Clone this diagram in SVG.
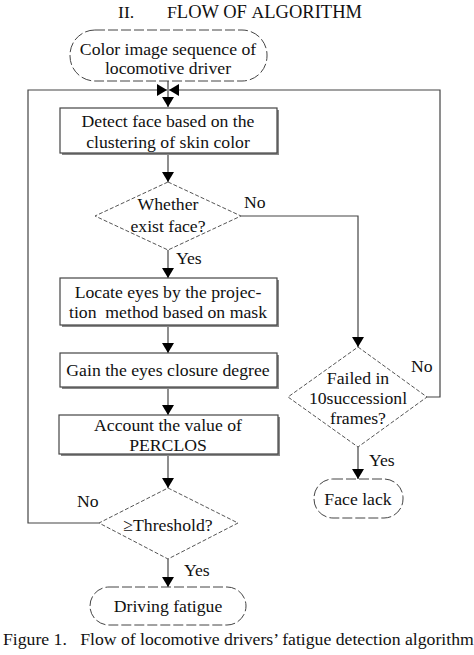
<svg xmlns="http://www.w3.org/2000/svg" width="474" height="655" viewBox="0 0 474 655">
<style>
text{font-family:"Liberation Serif","Times New Roman",serif;fill:#111;font-size:17.7px;text-anchor:middle}
.box{fill:#fff;stroke:#444;stroke-width:1.2}
.sh{fill:none;stroke:#888;stroke-width:2}
.dia{fill:#fff;stroke:#555;stroke-width:1;stroke-dasharray:4 2}
.term{fill:#fff;stroke:#444;stroke-width:1;stroke-dasharray:10 3}
.ln{fill:none;stroke:#444;stroke-width:1.2}
.lb{text-anchor:start}
</style>
<defs>
<marker id="ah" markerWidth="10" markerHeight="12" refX="10" refY="6" orient="auto" markerUnits="userSpaceOnUse">
<path d="M0,0 L10,6 L0,12 z" fill="#000"/>
</marker>
</defs>
<g id="title">
<text x="118" y="18" font-size="23" style="text-anchor:start">II.</text>
<text x="167" y="18" font-size="24" style="text-anchor:start"><tspan>F</tspan><tspan font-size="18.5">LOW OF </tspan><tspan>A</tspan><tspan font-size="18.5">LGORITHM</tspan></text>
</g>
<g id="connectors">
<path class="ln" d="M168,81 V90"/>
<path class="ln" d="M168,90 V107" marker-end="url(#ah)"/>
<path class="ln" d="M99,523 H28 V90 H167" marker-end="url(#ah)"/>
<path class="ln" d="M427,397 H440 V90 H169" marker-end="url(#ah)"/>
<path class="ln" d="M168,153 V182" marker-end="url(#ah)"/>
<path class="ln" d="M241,216 H358 V347" marker-end="url(#ah)"/>
<path class="ln" d="M168,250 V278" marker-end="url(#ah)"/>
<path class="ln" d="M168,325 V353" marker-end="url(#ah)"/>
<path class="ln" d="M168,387 V415" marker-end="url(#ah)"/>
<path class="ln" d="M168,454 V488" marker-end="url(#ah)"/>
<path class="ln" d="M168,559 V587" marker-end="url(#ah)"/>
<path class="ln" d="M358,447 V479" marker-end="url(#ah)"/>
<text class="lb" x="244" y="208">No</text>
<text class="lb" x="176" y="264">Yes</text>
<text class="lb" x="77" y="507">No</text>
<text class="lb" x="184" y="576">Yes</text>
<text class="lb" x="411" y="372">No</text>
<text class="lb" x="369" y="466">Yes</text>
</g>
<g id="start">
<rect class="term" x="70" y="30" width="197" height="51" rx="25" ry="25"/>
<text x="168" y="55">Color image sequence of</text>
<text x="168" y="74">locomotive driver</text>
</g>
<g id="detect">
<path class="sh" d="M278,110 V154 H62"/>
<rect class="box" x="60" y="108" width="217" height="45"/>
<text x="168" y="127">Detect face based on the</text>
<text x="168" y="148">clustering of skin color</text>
</g>
<g id="exist">
<path class="dia" d="M168,182 L241,216 L168,250 L95,216 z"/>
<text x="168" y="210">Whether</text>
<text x="168" y="232">exist face?</text>
</g>
<g id="locate">
<path class="sh" d="M278,280 V326 H62"/>
<rect class="box" x="60" y="278" width="217" height="47"/>
<text x="168" y="298">Locate eyes by the projec-</text>
<text x="168" y="318" xml:space="preserve">tion  method based on mask</text>
</g>
<g id="gain">
<path class="sh" d="M278,355 V388 H62"/>
<rect class="box" x="60" y="353" width="217" height="34"/>
<text x="168" y="376">Gain the eyes closure degree</text>
</g>
<g id="account">
<path class="sh" d="M279,417 V455 H61"/>
<rect class="box" x="59" y="415" width="219" height="39"/>
<text x="168" y="431">Account the value of</text>
<text x="168" y="451">PERCLOS</text>
</g>
<g id="threshold">
<path class="dia" d="M168,488 L238,523 L168,559 L99,523 z"/>
<text x="168" y="531">≥Threshold?</text>
</g>
<g id="fatigue">
<rect class="term" x="90" y="587" width="156" height="38" rx="19" ry="19"/>
<text x="168" y="612">Driving fatigue</text>
</g>
<g id="failed">
<path class="dia" d="M358,347 L427,397 L358,447 L288,397 z"/>
<text x="358" y="384">Failed in</text>
<text x="358" y="404">10successionl</text>
<text x="358" y="424">frames?</text>
</g>
<g id="facelack">
<rect class="term" x="314" y="479" width="89" height="39" rx="19" ry="19"/>
<text x="358" y="505">Face lack</text>
</g>
<g id="caption">
<text x="3" y="645" font-size="19.8" style="text-anchor:start" xml:space="preserve">Figure 1.   Flow of locomotive drivers’ fatigue detection algorithm</text>
</g>
</svg>
